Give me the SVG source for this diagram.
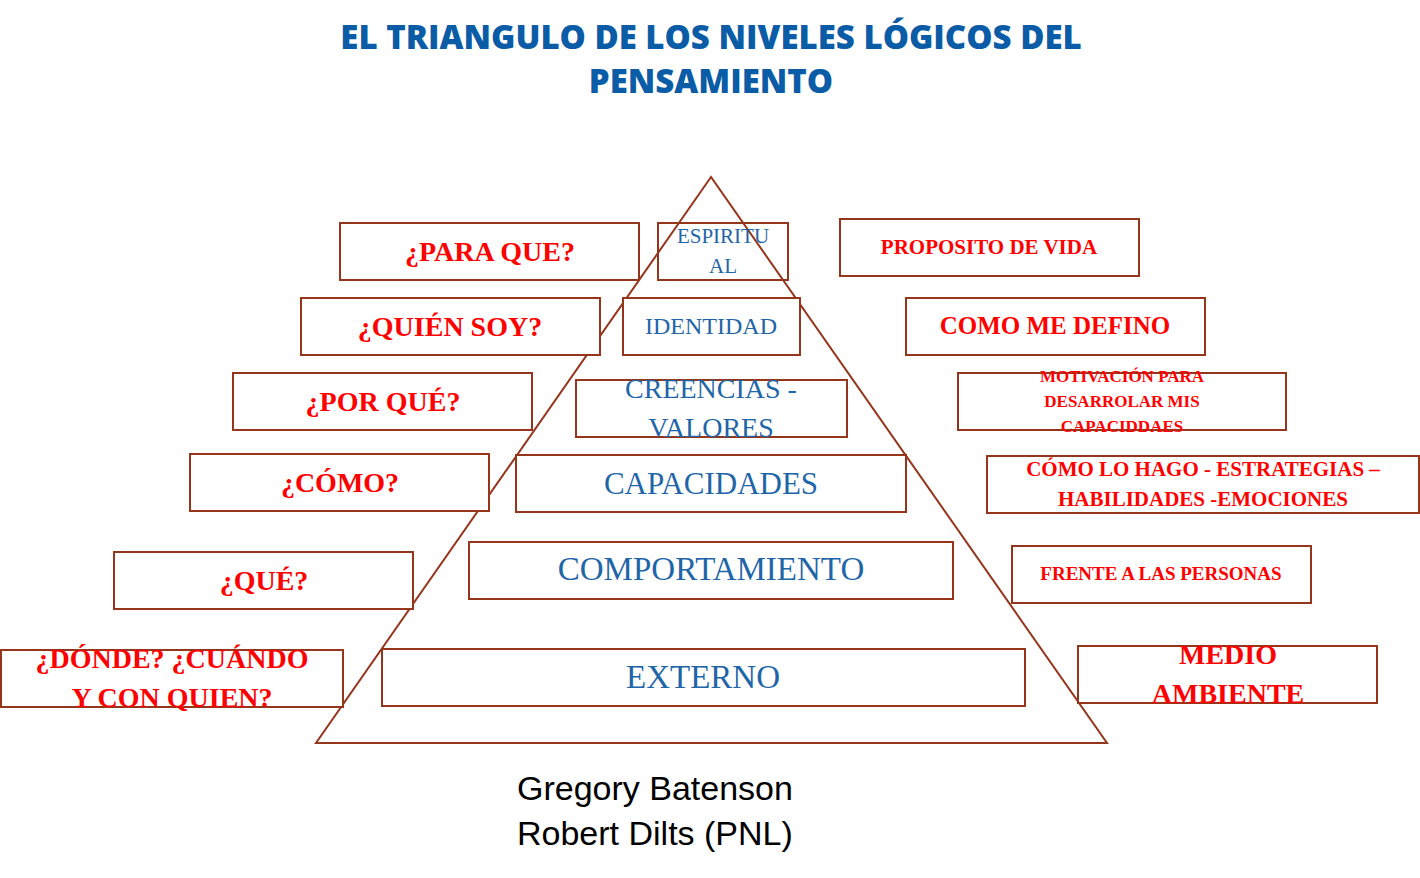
<svg xmlns="http://www.w3.org/2000/svg" width="1420" height="878" viewBox="0 0 1420 878">
<style>
.b{fill:#fff;stroke:#94351c;stroke-width:2}
.q{font-family:"Liberation Serif",serif;font-weight:bold;fill:#ff0000;text-anchor:middle}
.m{font-family:"Liberation Serif",serif;fill:#1f66a8;text-anchor:middle}
.t{font-family:"Open Sans","DejaVu Sans",sans-serif;font-weight:800;fill:#0a5ca6;font-size:33px;text-anchor:middle}
.a{font-family:"Liberation Sans",sans-serif;font-size:34px;fill:#000}
</style>
<rect width="1420" height="878" fill="#fff"/>
<text class="t" x="711" y="49">EL TRIANGULO DE LOS NIVELES LÓGICOS DEL</text>
<text class="t" x="711" y="93">PENSAMIENTO</text>
<g id="connectors"><polygon points="711,177 316,743 1107,743" fill="none" stroke="#94351c" stroke-width="2"/></g>
<g id="q1"><rect class="b" x="340" y="223" width="299" height="57"/><text class="q" x="490" y="261" font-size="28">¿PARA QUE?</text></g>
<g id="q2"><rect class="b" x="301" y="298" width="299" height="57"/><text class="q" x="450" y="336" font-size="28">¿QUIÉN SOY?</text></g>
<g id="q3"><rect class="b" x="233" y="373" width="299" height="57"/><text class="q" x="383" y="411" font-size="28">¿POR QUÉ?</text></g>
<g id="q4"><rect class="b" x="190" y="454" width="299" height="57"/><text class="q" x="340" y="492" font-size="28">¿CÓMO?</text></g>
<g id="q5"><rect class="b" x="114" y="552" width="299" height="57"/><text class="q" x="264" y="590" font-size="28">¿QUÉ?</text></g>
<g id="q6"><rect class="b" x="1" y="650" width="342" height="57"/><text class="q" x="172" y="668" font-size="28">¿DÓNDE? ¿CUÁNDO</text><text class="q" x="172" y="707" font-size="28">Y CON QUIEN?</text></g>
<g id="m1"><rect class="b" x="658" y="223" width="130" height="57" fill="none" style="fill:none"/><text class="m" x="723" y="243" font-size="21">ESPIRITU</text><text class="m" x="723" y="273" font-size="21">AL</text></g>
<g id="m2"><rect class="b" x="623" y="298" width="177" height="57"/><text class="m" x="711" y="334" font-size="24">IDENTIDAD</text></g>
<g id="m3"><rect class="b" x="576" y="380" width="271" height="57"/><text class="m" x="711" y="398" font-size="28">CREENCIAS -</text><text class="m" x="711" y="437" font-size="28">VALORES</text></g>
<g id="m4"><rect class="b" x="516" y="455" width="390" height="57"/><text class="m" x="711" y="494" font-size="31">CAPACIDADES</text></g>
<g id="m5"><rect class="b" x="469" y="542" width="484" height="57"/><text class="m" x="711" y="580" font-size="33">COMPORTAMIENTO</text></g>
<g id="m6"><rect class="b" x="382" y="649" width="643" height="57"/><text class="m" x="703" y="688" font-size="33">EXTERNO</text></g>
<g id="r1"><rect class="b" x="840" y="219" width="299" height="57"/><text class="q" x="989" y="254" font-size="21">PROPOSITO DE VIDA</text></g>
<g id="r2"><rect class="b" x="906" y="298" width="299" height="57"/><text class="q" x="1055" y="334" font-size="25">COMO ME DEFINO</text></g>
<g id="r3"><rect class="b" x="958" y="373" width="328" height="57"/><text class="q" x="1122" y="382" font-size="17">MOTIVACIÓN PARA</text><text class="q" x="1122" y="407" font-size="17">DESARROLAR MIS</text><text class="q" x="1122" y="432" font-size="17">CAPACIDDAES</text></g>
<g id="r4"><rect class="b" x="987" y="456" width="432" height="57"/><text class="q" x="1203" y="476" font-size="21">CÓMO LO HAGO - ESTRATEGIAS –</text><text class="q" x="1203" y="506" font-size="21">HABILIDADES -EMOCIONES</text></g>
<g id="r5"><rect class="b" x="1012" y="546" width="299" height="57"/><text class="q" x="1161" y="580" font-size="19">FRENTE A LAS PERSONAS</text></g>
<g id="r6"><rect class="b" x="1078" y="646" width="299" height="57"/><text class="q" x="1228" y="664" font-size="28">MEDIO</text><text class="q" x="1228" y="703" font-size="28">AMBIENTE</text></g>
<text class="a" x="517" y="800">Gregory Batenson</text>
<text class="a" x="517" y="845">Robert Dilts (PNL)</text>
</svg>
